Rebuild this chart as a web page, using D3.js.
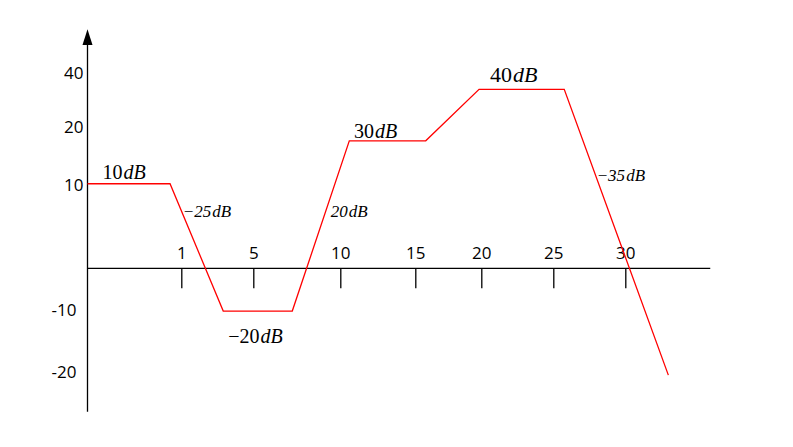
<!DOCTYPE html>
<html>
<head>
<meta charset="utf-8">
<script src="https://cdn.jsdelivr.net/npm/d3@7"></script>
<style>
  body { margin: 0; background: #fff; }
  .tick text { font-family: "Open Sans", sans-serif; font-size: 17px; fill: #000; }
  .ann { font-family: "Liberation Serif", "Times New Roman", serif; fill: #000; }
</style>
</head>
<body>
<script>
// schematic gain curve
const xTicks = [1, 5, 10, 15, 20, 25, 30];
const yTicks = [-20, -10, 10, 20, 40];

const curveX = [0, 0.88, 3.33, 7.24, 10.6, 15.79, 19.83, 25.76, 32.99];
const curveY = [10.3, 10.3, -10.2, -10.2, 17.7, 17.7, 34.0, 34.0, -20.5];

// dB annotations, placed in data units
const annText = ["10", "\u221225", "\u221220", "20", "30", "40", "\u221235"];
const annX = [0.16, 1.08, 3.61, 9.45, 10.91, 20.6, 28.01];
const annY = [11.07, 6.14, -15.4, 6.16, 18.14, 36.7, 10.83];
const annItalic = [false, true, false, true, false, false, true];

var width = 793, height = 447;

var svg = d3.select("body").append("svg")
  .attr("width", width)
  .attr("height", height);

// the picture's axes are not evenly spaced, so use piecewise scales
var x = d3.scaleLinear()
  .domain([0, 1, 5, 10, 15, 20, 25, 30])
  .range([87.5, 181.3, 253.3, 340.3, 415.3, 481.3, 553.3, 625.3]);

var y = d3.scaleLinear()
  .domain([-20, -10, 0, 10, 20, 40])
  .range([372, 309.8, 268.3, 185.5, 127.5, 73]);

var xEnd = 35.9, yBottom = -26.4, yArrowBase = 50.3, yArrowTip = 56.1;

// x axis line
svg.append("line")
  .attr("x1", x(0)).attr("x2", x(xEnd))
  .attr("y1", y(0)).attr("y2", y(0))
  .attr("stroke", "#000").attr("stroke-width", 1.3);

// y axis line + arrow head
svg.append("line")
  .attr("x1", x(0)).attr("x2", x(0))
  .attr("y1", y(yBottom)).attr("y2", y(yArrowBase))
  .attr("stroke", "#000").attr("stroke-width", 1.3);

svg.append("path")
  .attr("d", "M" + x(0) + "," + y(yArrowTip) +
    "L" + (x(0) + 5) + "," + y(yArrowBase) +
    "L" + (x(0) - 5) + "," + y(yArrowBase) + "Z")
  .attr("fill", "#000");

// x ticks hang below, labels sit above
var xAxis = d3.axisBottom(x).tickValues(xTicks).tickSize(20).tickSizeOuter(0);
var gx = svg.append("g")
  .attr("transform", "translate(0," + y(0) + ")")
  .call(xAxis);
gx.select(".domain").remove();
gx.selectAll(".tick line").attr("stroke", "#000").attr("stroke-width", 1.3);
gx.selectAll(".tick text").attr("y", -9).attr("dy", "0");

var yAxis = d3.axisLeft(y).tickValues(yTicks).tickSize(0).tickPadding(4);
var gy = svg.append("g")
  .attr("transform", "translate(" + x(0) + ",0)")
  .call(yAxis);
gy.select(".domain").remove();
gy.selectAll(".tick text")
  .text(function(d) { return d < 0 ? "-" + Math.abs(d) : d; })
  .attr("dx", function(d) { return d < 0 ? -7 : 0; });

// red curve
var pts = curveX.map(function(d, i) { return [d, curveY[i]]; });
var line = d3.line()
  .x(function(d) { return x(d[0]); })
  .y(function(d) { return y(d[1]); });

svg.append("path")
  .datum(pts)
  .attr("d", line)
  .attr("fill", "none")
  .attr("stroke", "#ff0000")
  .attr("stroke-width", 1.3);

// dB annotations: number then italic unit right after it
var fontSizes = [20, 17, 20, 17, 20, 22, 17];

annText.forEach(function(t, i) {
  var num = svg.append("text")
    .attr("class", "ann")
    .attr("x", x(annX[i]))
    .attr("y", y(annY[i]))
    .attr("font-size", fontSizes[i])
    .attr("font-style", annItalic[i] ? "italic" : "normal")
    .text(t);
  var w = num.node().getComputedTextLength();
  svg.append("text")
    .attr("class", "ann")
    .attr("x", x(annX[i]) + w + 1)
    .attr("y", y(annY[i]))
    .attr("font-size", fontSizes[i])
    .attr("font-style", "italic")
    .text("dB");
});
</script>
</body>
</html>
